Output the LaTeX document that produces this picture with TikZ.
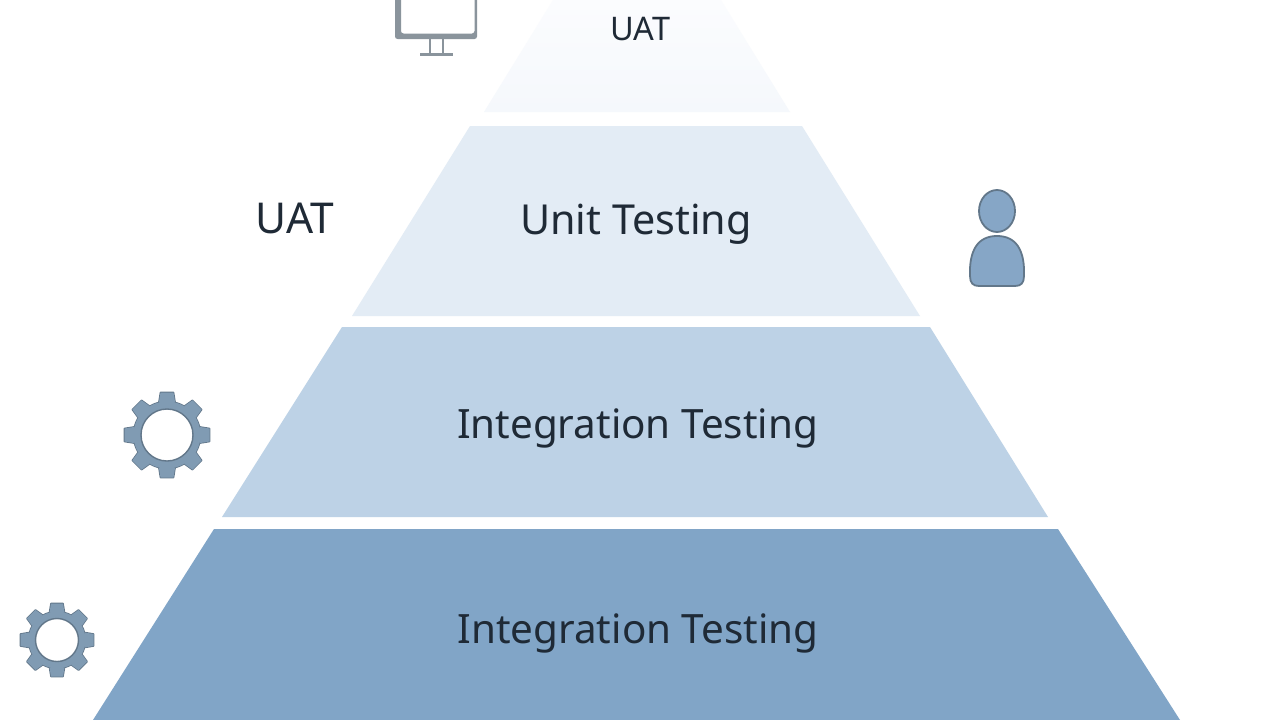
\documentclass[tikz,border=0pt]{standalone}
\usepackage{fontspec}
\setmainfont{Noto Sans}
\definecolor{tierAtop}{HTML}{FBFCFE}
\definecolor{tierAbot}{HTML}{F5F8FC}
\definecolor{tierB}{HTML}{E3ECF5}
\definecolor{tierC}{HTML}{BDD2E6}
\definecolor{tierD}{HTML}{81A5C7}
\definecolor{ink}{HTML}{1F2A36}
\definecolor{iconline}{HTML}{62778A}
\definecolor{iconfill}{HTML}{809BB3}
\definecolor{personfill}{HTML}{86A6C6}
\definecolor{screen}{HTML}{8A949C}
% gear: cx cy outer root hole tooth-half-width
\newcommand{\gearteeth}[7]{%
  \foreach \a in {0,45,...,315}{
    \path[rotate around={\a:(#1,#2)}] coordinate (ga) at (#1+#4-1,#2-#6*1.25) coordinate (gb) at (#1+#3,#2-#6) coordinate (gc) at (#1+#3,#2+#6) coordinate (gd) at (#1+#4-1,#2+#6*1.25);
    \path[#7] (ga) -- (gb) -- (gc) -- (gd) -- cycle;
  }
  \path[#7] (#1,#2) circle [radius=#4];
}
\newcommand{\gearicon}[6]{%
  \gearteeth{#1}{#2}{#3}{#4}{#5}{#6}{draw=iconline,line width=1.6pt,line join=round}
  \gearteeth{#1}{#2}{#3}{#4}{#5}{#6}{fill=iconfill}
  \fill[white,draw=iconline,line width=1.4pt] (#1,#2) circle [radius=#5];
}
\tikzset{
  tier/.style={draw=none},
  txt/.style={text=ink,inner sep=0pt,anchor=center},
  bigtxt/.style={txt,font=\fontsize{40.4}{48}\selectfont},
}
\begin{document}
\begin{tikzpicture}[x=1pt,y=-1pt]
\useasboundingbox (0,0) rectangle (1280,720);
\fill[white] (0,0) rectangle (1280,720);
% tiers
\shade[top color=tierAtop,bottom color=tierAbot] (553,0) -- (721,0) -- (790,112) -- (484,112) -- cycle;
\fill[tierB,tier] (470,126) -- (802,126) -- (920,316) -- (352,316) -- cycle;
\fill[tierC,tier] (342,327) -- (930,327) -- (1048,517) -- (222,517) -- cycle;
\fill[tierD,tier] (214,529) -- (1058,529) -- (1180,720) -- (93,720) -- cycle;
% labels
\node[txt,font=\fontsize{32.5}{36}\selectfont] (uatTop) at (640.5,29.5) {UAT};
\node[txt,font=\fontsize{42.5}{48}\selectfont] (uatSide) at (295,218) {UAT};
\node[txt,font=\fontsize{41.3}{48}\selectfont] (unit) at (636,224.5) {Unit Testing};
\node[bigtxt] (integA) at (637.5,428.5) {Integration Testing};
\node[bigtxt] (integB) at (638,633.5) {Integration Testing};
% monitor
\fill[screen,even odd rule,rounded corners=2.5pt] (395,-6) -- (395,39) -- (477,39) -- (477,-6) -- cycle (401,-6) -- (401,33.5) -- (474.5,33.5) -- (474.5,-6) -- cycle;
\draw[screen,line width=2.5pt] (430,39) -- (430,54) (443,39) -- (443,54);
\draw[screen,line width=3pt] (420,54.5) -- (453,54.5);
% person
\fill[personfill,draw=iconline,line width=1.8pt] (997,211) ellipse [x radius=18,y radius=21];
\fill[personfill,draw=iconline,line width=1.8pt] (970,276) .. controls (969,250) and (978,236) .. (997,236) .. controls (1016,236) and (1025,250) .. (1024,276) .. controls (1024,283) and (1021,286) .. (1015,286) -- (979,286) .. controls (973,286) and (970,283) .. (970,276) -- cycle;
% gears
\gearicon{167}{435}{42.5}{33.5}{26}{6.5}
\gearicon{57}{640}{36.5}{28.5}{21.5}{6}
\end{tikzpicture}
\end{document}
